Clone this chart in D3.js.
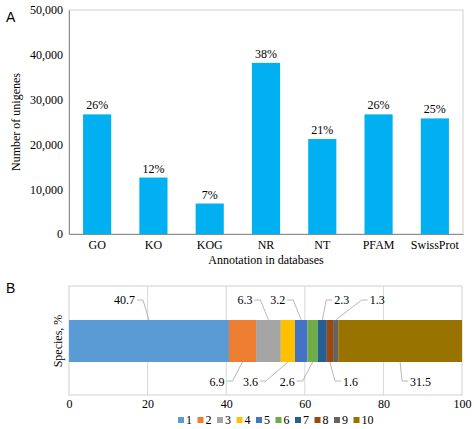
<!DOCTYPE html>
<html><head><meta charset="utf-8">
<script src="https://cdn.jsdelivr.net/npm/d3@7"></script>
<style>body{margin:0;background:#fff}svg text{font-family:"Liberation Serif","Times New Roman",serif !important}svg text.sans{font-family:"Liberation Sans",Arial,sans-serif !important}</style>
</head><body><svg id="c" width="474" height="429"></svg>
<script>
const dbCategories=["GO","KO","KOG","NR","NT","PFAM","SwissProt"];
const dbValues=[26700,12600,6800,38200,21200,26700,25800];
const dbPercent=["26%","12%","7%","38%","21%","26%","25%"];
const yTicks=[0,10000,20000,30000,40000,50000];
const speciesNames=["1","2","3","4","5","6","7","8","9","10"];
const speciesValues=[40.7,6.9,6.3,3.6,3.2,2.6,2.3,1.6,1.3,31.5];
const speciesColors=["#5B9BD5","#ED7D31","#A5A5A5","#FFC000","#4472C4","#70AD47","#255E91","#9E480E","#636363","#997300"];
const xTicksB=[0,20,40,60,80,100];
// label placement (style): side, horizontal offset from segment centre
const labelSide=["up","down","up","down","up","down","up","down","up","down"];
const labelDx=[-6,-10,-8,-22,-8,-10,4,5,26,2];

const svg=d3.select("#c");
// Panel A
const L=69,R=463,T=10,B=234;
const x=d3.scaleBand().domain(dbCategories).range([L,R]).paddingInner(0.5).paddingOuter(0.25);
const y=d3.scaleLinear().domain([0,50000]).range([B,T]);
svg.append("rect").attr("x",L).attr("y",T).attr("width",R-L).attr("height",B-T).attr("fill","none").attr("stroke","#d0d0d0");
svg.selectAll(".bar").data(dbValues).join("rect").attr("x",(d,i)=>x(dbCategories[i])).attr("y",d=>y(d))
 .attr("width",x.bandwidth()).attr("height",d=>B-y(d)).attr("fill","#00B0F0");
svg.selectAll(".pl").data(dbValues).join("text").attr("x",(d,i)=>x(dbCategories[i])+x.bandwidth()/2).attr("y",d=>y(d)-5)
 .attr("text-anchor","middle").attr("font-size",12).text((d,i)=>dbPercent[i]);
const ya=svg.append("g").attr("transform",`translate(${L},0)`).call(d3.axisLeft(y).tickValues(yTicks).tickFormat(d3.format(",")).tickSize(0).tickPadding(6));
const xa=svg.append("g").attr("transform",`translate(0,${B})`).call(d3.axisBottom(x).tickSize(0).tickPadding(6));
[ya,xa].forEach(a=>{a.select(".domain").attr("stroke","#8c8c8c");a.selectAll("text").attr("font-size",12).attr("fill","#000");});
svg.append("text").attr("transform",`translate(20,122) rotate(-90)`).attr("text-anchor","middle").attr("font-size",12).text("Number of unigenes");
svg.append("text").attr("x",266).attr("y",264).attr("text-anchor","middle").attr("font-size",12).text("Annotation in databases");
svg.append("text").attr("class","sans").attr("x",6).attr("y",22).attr("font-size",14).text("A");
svg.append("text").attr("class","sans").attr("x",6).attr("y",293).attr("font-size",14).text("B");

// Panel B
const L2=69,R2=462,T2=286,B2=395,bt=320,bb=362;
const xb=d3.scaleLinear().domain([0,100]).range([L2,R2]);
svg.append("rect").attr("x",L2).attr("y",T2).attr("width",R2-L2).attr("height",B2-T2).attr("fill","none").attr("stroke","#d0d0d0");
svg.selectAll(".gl").data(xTicksB.slice(1,-1)).join("line").attr("x1",d=>xb(d)).attr("x2",d=>xb(d)).attr("y1",T2).attr("y2",B2).attr("stroke","#d9d9d9");
let cum=0;const segs=speciesValues.map((v,i)=>{const s={i,v,a:cum,b:cum+v};cum+=v;return s;});
svg.selectAll(".seg").data(segs).join("rect").attr("x",d=>xb(d.a)).attr("y",bt).attr("width",d=>xb(d.b)-xb(d.a)).attr("height",bb-bt).attr("fill",d=>speciesColors[d.i]);
segs.forEach(s=>{
 const cx=xb((s.a+s.b)/2),dx=labelDx[s.i],up=labelSide[s.i]==="up";
 const ty=up?304:386, ly=up?300:381, ey=up?bt:bb;
 const left=dx<0, tx=cx+dx+(left?-8:8);
 svg.append("polyline").attr("points",`${cx+dx+(left?-6:6)},${ly} ${cx+dx},${ly} ${cx},${ey}`).attr("fill","none").attr("stroke","#a6a6a6").attr("stroke-width",0.8);
 svg.append("text").attr("x",tx).attr("y",ty).attr("text-anchor",left?"end":"start").attr("font-size",12).text(s.v.toFixed(1));
});
const xba=svg.append("g").attr("transform",`translate(0,${B2})`).call(d3.axisBottom(xb).tickValues(xTicksB).tickSize(0).tickPadding(4));
xba.select(".domain").remove();xba.selectAll("text").attr("font-size",12).attr("fill","#000");
svg.append("text").attr("transform",`translate(62,341) rotate(-90)`).attr("text-anchor","middle").attr("font-size",12).text("Species, %");
const lg=svg.append("g").attr("transform","translate(178,424)");
speciesNames.forEach((n,i)=>{const g=lg.append("g").attr("transform",`translate(${i*19.5},0)`);
 g.append("rect").attr("x",0).attr("y",-7).attr("width",6).attr("height",6).attr("fill",speciesColors[i]);
 g.append("text").attr("x",8).attr("y",0).attr("font-size",12).text(n);});
</script></body></html>
